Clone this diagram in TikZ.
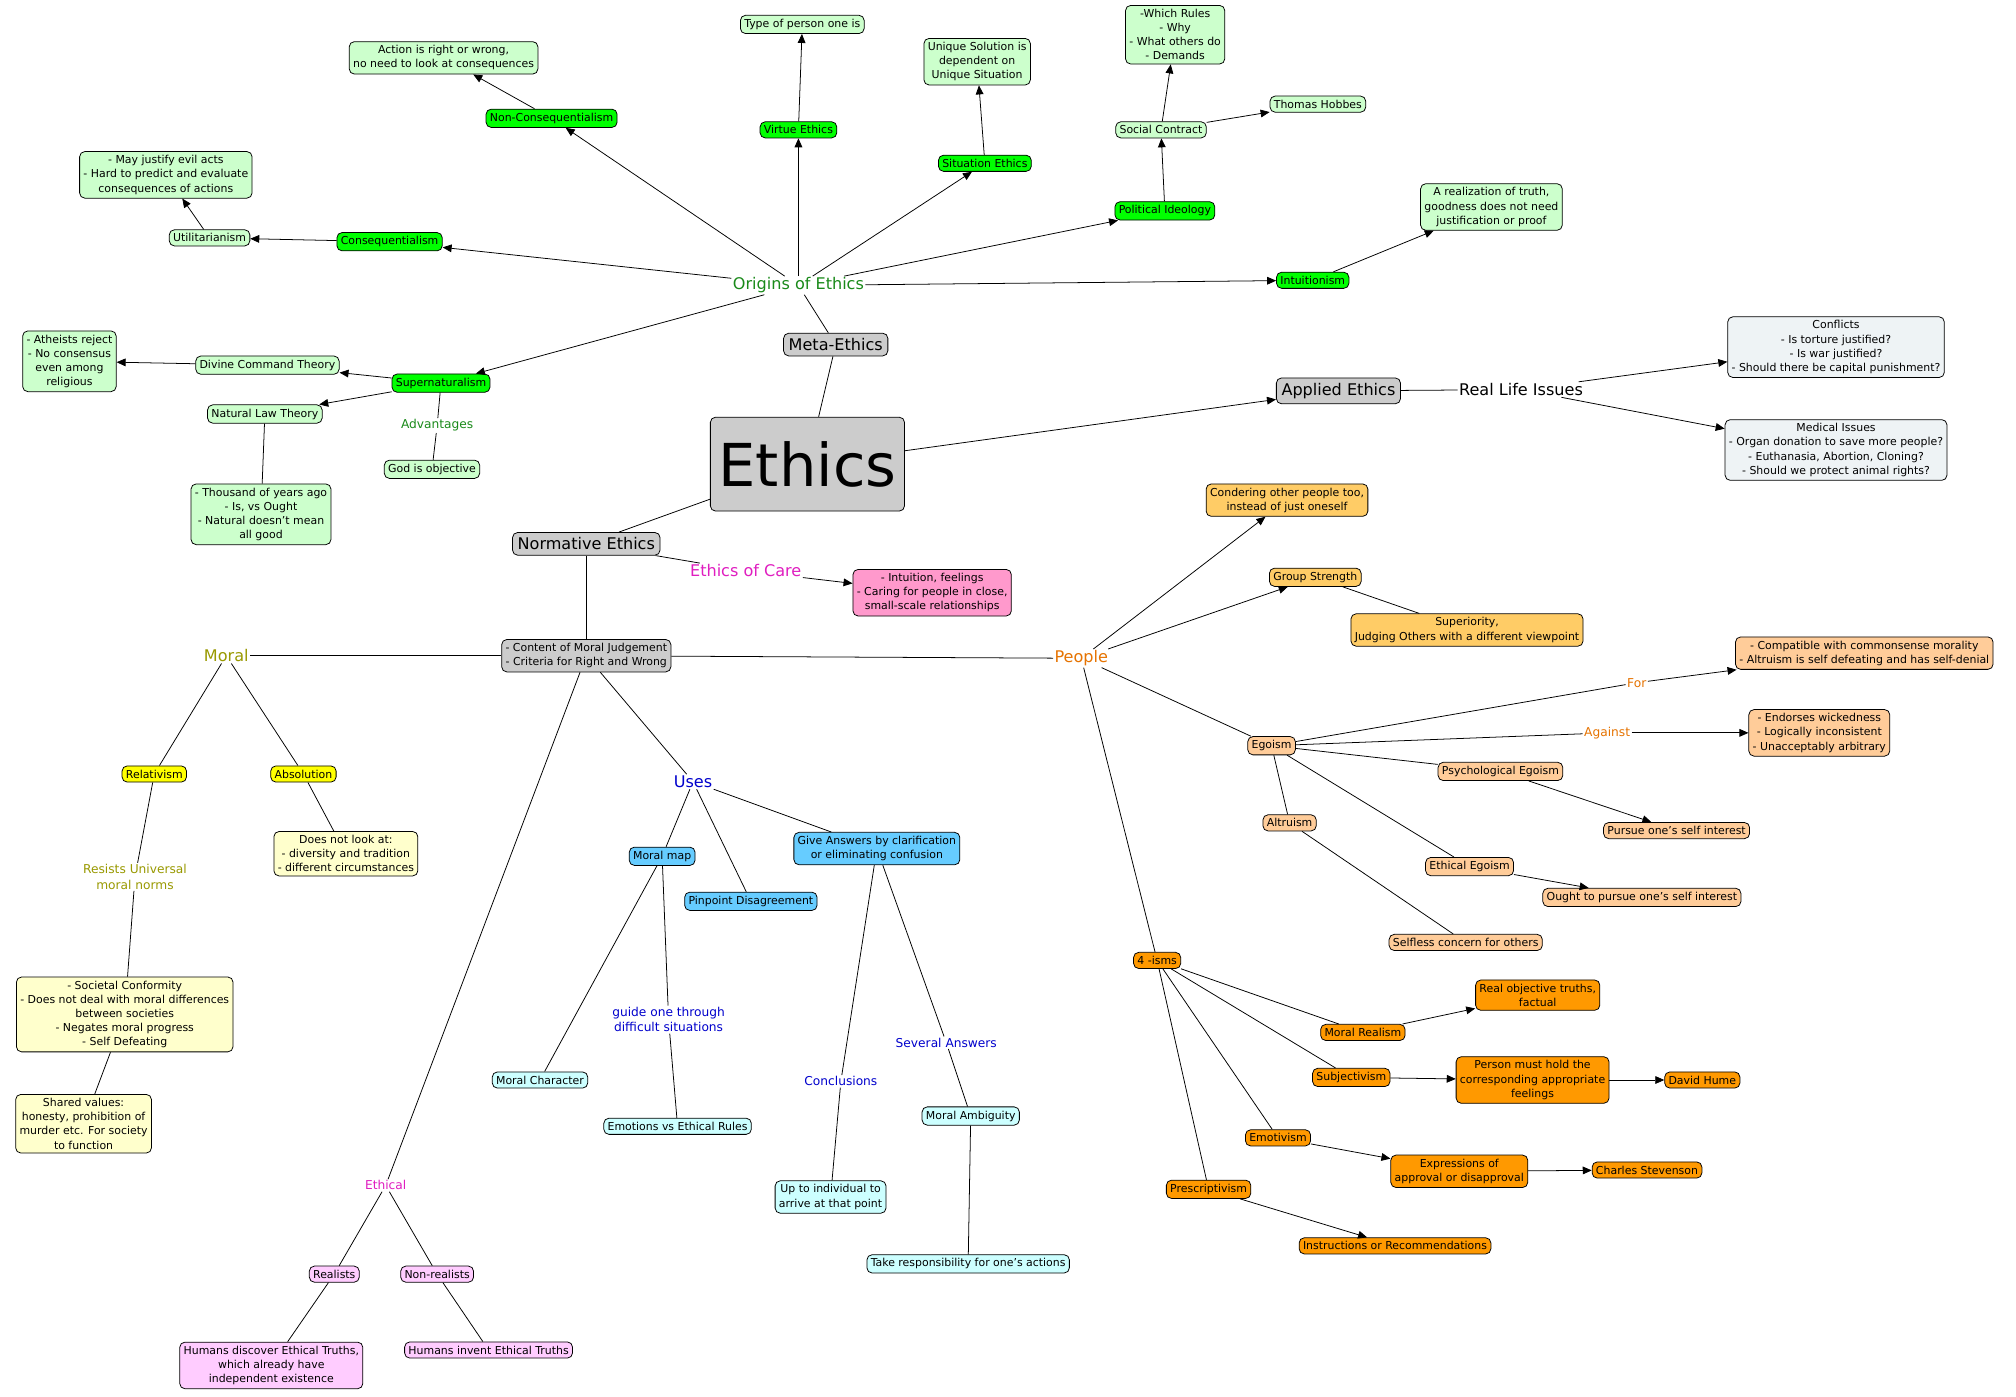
\documentclass[tikz,border=0pt]{standalone}
\usepackage{fontspec}
\setmainfont{DejaVu Sans}
\usetikzlibrary{arrows.meta}
\definecolor{gr}{HTML}{00FF00}
\definecolor{lg}{HTML}{CCFFCC}
\definecolor{gy}{HTML}{CCCCCC}
\definecolor{lb}{HTML}{EEF3F5}
\definecolor{pk}{HTML}{FF99CC}
\definecolor{ye}{HTML}{FFFF00}
\definecolor{ly}{HTML}{FFFFCC}
\definecolor{bl}{HTML}{66CCFF}
\definecolor{lc}{HTML}{CCFFFF}
\definecolor{lp}{HTML}{FFCCFF}
\definecolor{og}{HTML}{FFCC66}
\definecolor{lo}{HTML}{FFCC99}
\definecolor{or}{HTML}{FF9900}
\definecolor{tgreen}{HTML}{1A8A1A}
\definecolor{tmag}{HTML}{E01EC0}
\definecolor{tolive}{HTML}{999900}
\definecolor{tblue}{HTML}{0000CC}
\definecolor{torange}{HTML}{E67300}
\begin{document}
\begin{tikzpicture}[x=1pt,y=-1pt,
 box/.style={draw=black,rounded corners=4pt,align=center,inner sep=3pt,font=\fontsize{8.5}{11}\selectfont,line width=0.6pt},
 big/.style={box,font=\fontsize{12.5}{15}\selectfont,inner sep=4pt},
 lab/.style={align=center,inner sep=1pt,font=\fontsize{12.5}{15}\selectfont},
 slab/.style={align=center,inner sep=1pt,font=\fontsize{9.5}{12}\selectfont},
 ln/.style={line width=0.6pt},
 ar/.style={line width=0.6pt,-{Triangle[length=7pt,width=6pt]}}]
\fill[white] (0,0) rectangle (1568,1086);
% centre
\node[box,fill=gy,minimum width=151,minimum height=73,font=\fontsize{46}{50}\selectfont] (eth) at (628,361) {Ethics};
\node[big,fill=gy] (meta) at (650,268) {Meta-Ethics};
\node[big,fill=gy] (app) at (1041,304) {Applied Ethics};
\node[big,fill=gy] (norm) at (456,423) {Normative Ethics};
\node[lab,text=tgreen] (orig) at (621,222) {Origins of Ethics};
\node[lab] (rli) at (1183,303) {Real Life Issues};
% meta
\node[box,fill=gr] (ncon) at (429,92) {Non-Consequentialism};
\node[box,fill=gr] (virt) at (621,101) {Virtue Ethics};
\node[box,fill=gr] (sit) at (766,127) {Situation Ethics};
\node[box,fill=gr] (pol) at (906,164) {Political Ideology};
\node[box,fill=gr] (con) at (303,188) {Consequentialism};
\node[box,fill=gr] (intu) at (1021,218) {Intuitionism};
\node[box,fill=gr] (sup) at (343,298) {Supernaturalism};
\node[box,fill=lg] (act) at (345,45) {Action is right or wrong,\\no need to look at consequences};
\node[box,fill=lg] (type) at (624,19) {Type of person one is};
\node[box,fill=lg] (uniq) at (760,48) {Unique Solution is\\dependent on\\Unique Situation};
\node[box,fill=lg] (which) at (914,27) {-Which Rules\\- Why\\- What others do\\- Demands};
\node[box,fill=lg] (hob) at (1025,81) {Thomas Hobbes};
\node[box,fill=lg] (soc) at (903,101) {Social Contract};
\node[box,fill=lg] (real) at (1160,161) {A realization of truth,\\goodness does not need\\justification or proof};
\node[box,fill=lg] (may) at (129,136) {- May justify evil acts\\- Hard to predict and evaluate\\consequences of actions};
\node[box,fill=lg] (util) at (163,185) {Utilitarianism};
\node[box,fill=lg] (athe) at (54,281) {- Atheists reject\\- No consensus\\even among\\religious};
\node[box,fill=lg] (div) at (208,284) {Divine Command Theory};
\node[box,fill=lg] (nat) at (206,322) {Natural Law Theory};
\node[box,fill=lg] (god) at (336,365) {God is objective};
\node[box,fill=lg] (thou) at (203,400) {- Thousand of years ago\\- Is, vs Ought\\- Natural doesn't mean\\all good};
\node[slab,text=tgreen] (adv) at (340,331) {Advantages};
% applied
\node[box,fill=lb] (conf) at (1428,270) {Conflicts\\- Is torture justified?\\- Is war justified?\\- Should there be capital punishment?};
\node[box,fill=lb] (med) at (1428,350) {Medical Issues\\- Organ donation to save more people?\\- Euthanasia, Abortion, Cloning?\\- Should we protect animal rights?};
% normative
\node[lab,text=tmag] (care) at (580,444) {Ethics of Care};
\node[box,fill=pk] (carebox) at (725,461) {- Intuition, feelings\\- Caring for people in close,\\small-scale relationships};
\node[box,fill=gy] (cont) at (456,510) {- Content of Moral Judgement\\- Criteria for Right and Wrong};
\node[lab,text=tolive] (moral) at (176,510) {Moral};
\node[box,fill=ye] (rel) at (120,602) {Relativism};
\node[box,fill=ye] (abs) at (236,602) {Absolution};
\node[slab,text=tolive] (res) at (105,682) {Resists Universal\\moral norms};
\node[box,fill=ly] (dnl) at (269,664) {Does not look at:\\- diversity and tradition\\- different circumstances};
\node[box,fill=ly] (soci) at (97,789) {- Societal Conformity\\- Does not deal with moral differences\\between societies\\- Negates moral progress\\- Self Defeating};
\node[box,fill=ly] (shar) at (65,874) {Shared values:\\honesty, prohibition of\\murder etc. For society\\to function};
\node[lab,text=tblue] (uses) at (539,608) {Uses};
\node[box,fill=bl] (mmap) at (515,666) {Moral map};
\node[box,fill=bl] (pin) at (584,701) {Pinpoint Disagreement};
\node[box,fill=bl] (give) at (682,660) {Give Answers by clarification\\or eliminating confusion};
\node[slab,text=tblue] (guide) at (520,793) {guide one through\\difficult situations};
\node[box,fill=lc] (mchar) at (420,840) {Moral Character};
\node[box,fill=lc] (emo) at (527,876) {Emotions vs Ethical Rules};
\node[slab,text=tblue] (concl) at (654,841) {Conclusions};
\node[slab,text=tblue] (sev) at (736,811) {Several Answers};
\node[box,fill=lc] (amb) at (755,868) {Moral Ambiguity};
\node[box,fill=lc] (upto) at (646,931) {Up to individual to\\arrive at that point};
\node[box,fill=lc] (take) at (753,983) {Take responsibility for one's actions};
\node[slab,text=tmag] (ethl) at (300,922) {Ethical};
\node[box,fill=lp] (reals) at (260,991) {Realists};
\node[box,fill=lp] (nonr) at (340,991) {Non-realists};
\node[box,fill=lp] (disc) at (211,1062) {Humans discover Ethical Truths,\\which already have\\independent existence};
\node[box,fill=lp] (inv) at (380,1050) {Humans invent Ethical Truths};
% people
\node[lab,text=torange] (peo) at (841,512) {People};
\node[box,fill=og] (cond) at (1001,389) {Condering other people too,\\instead of just oneself};
\node[box,fill=og] (grp) at (1023,449) {Group Strength};
\node[box,fill=og] (supe) at (1141,490) {Superiority,\\Judging Others with a different viewpoint};
\node[box,fill=lo] (ego) at (989,580) {Egoism};
\node[slab,text=torange] (for) at (1273,531) {For};
\node[slab,text=torange] (agn) at (1250,570) {Against};
\node[box,fill=lo] (comp) at (1450,508) {- Compatible with commonsense morality\\- Altruism is self defeating and has self-denial};
\node[box,fill=lo] (endo) at (1415,570) {- Endorses wickedness\\- Logically inconsistent\\- Unacceptably arbitrary};
\node[box,fill=lo] (psy) at (1167,600) {Psychological Egoism};
\node[box,fill=lo] (purs) at (1304,646) {Pursue one's self interest};
\node[box,fill=lo] (alt) at (1003,640) {Altruism};
\node[box,fill=lo] (eeg) at (1143,674) {Ethical Egoism};
\node[box,fill=lo] (ought) at (1277,698) {Ought to pursue one's self interest};
\node[box,fill=lo] (self) at (1140,733) {Selfless concern for others};
\node[box,fill=or] (isms) at (900,747) {4 -isms};
\node[box,fill=or] (mr) at (1060,803) {Moral Realism};
\node[box,fill=or] (rot) at (1196,774) {Real objective truths,\\factual};
\node[box,fill=or] (subj) at (1051,838) {Subjectivism};
\node[box,fill=or] (pmh) at (1192,840) {Person must hold the\\corresponding appropriate\\feelings};
\node[box,fill=or] (hume) at (1324,840) {David Hume};
\node[box,fill=or] (emot) at (994,885) {Emotivism};
\node[box,fill=or] (expr) at (1135,911) {Expressions of\\approval or disapproval};
\node[box,fill=or] (stev) at (1281,910) {Charles Stevenson};
\node[box,fill=or] (pres) at (940,925) {Prescriptivism};
\node[box,fill=or] (instr) at (1085,969) {Instructions or Recommendations};
% edges meta
\draw[ln] (eth) -- (meta);
\draw[ln] (meta) -- (orig);
\draw[ar] (orig) -- (ncon);
\draw[ar] (orig) -- (virt);
\draw[ar] (orig) -- (sit);
\draw[ar] (orig) -- (pol);
\draw[ar] (orig) -- (con);
\draw[ar] (orig) -- (intu);
\draw[ar] (orig) -- (sup);
\draw[ar] (ncon) -- (act);
\draw[ar] (virt) -- (type);
\draw[ar] (sit) -- (uniq);
\draw[ar] (pol) -- (soc);
\draw[ar] (soc) -- (which);
\draw[ar] (soc) -- (hob);
\draw[ar] (intu) -- (real);
\draw[ar] (con) -- (util);
\draw[ar] (util) -- (may);
\draw[ar] (sup) -- (div);
\draw[ar] (sup) -- (nat);
\draw[ar] (div) -- (athe);
\draw[ln] (nat) -- (thou);
\draw[ln] (sup) -- (adv) -- (god);
% applied
\draw[ar] (eth) -- (app);
\draw[ln] (app) -- (rli);
\draw[ar] (rli) -- (conf);
\draw[ar] (rli) -- (med);
% normative
\draw[ln] (eth) -- (norm);
\draw[ln] (norm) -- (cont);
\draw[ln] (norm) -- (care);
\draw[ar] (care) -- (carebox);
\draw[ln] (cont) -- (moral);
\draw[ln] (moral) -- (rel);
\draw[ln] (moral) -- (abs);
\draw[ln] (rel) -- (res) -- (soci) -- (shar);
\draw[ln] (abs) -- (dnl);
\draw[ln] (cont) -- (uses);
\draw[ln] (uses) -- (mmap);
\draw[ln] (uses) -- (pin);
\draw[ln] (uses) -- (give);
\draw[ln] (mmap) -- (mchar);
\draw[ln] (mmap) -- (guide) -- (emo);
\draw[ln] (give) -- (concl) -- (upto);
\draw[ln] (give) -- (sev) -- (amb) -- (take);
\draw[ln] (cont) -- (ethl);
\draw[ln] (ethl) -- (reals);
\draw[ln] (ethl) -- (nonr);
\draw[ln] (reals) -- (disc);
\draw[ln] (nonr) -- (inv);
% people
\draw[ln] (cont) -- (peo);
\draw[ar] (peo) -- (cond);
\draw[ar] (peo) -- (grp);
\draw[ln] (grp) -- (supe);
\draw[ln] (peo) -- (ego);
\draw[ln] (ego) -- (for); \draw[ar] (for) -- (comp);
\draw[ln] (ego) -- (agn); \draw[ar] (agn) -- (endo);
\draw[ln] (ego) -- (psy); \draw[ar] (psy) -- (purs);
\draw[ln] (ego) -- (alt) -- (self);
\draw[ln] (ego) -- (eeg); \draw[ar] (eeg) -- (ought);
\draw[ln] (peo) -- (isms);
\draw[ln] (isms) -- (mr); \draw[ar] (mr) -- (rot);
\draw[ln] (isms) -- (subj); \draw[ar] (subj) -- (pmh); \draw[ar] (pmh) -- (hume);
\draw[ln] (isms) -- (emot); \draw[ar] (emot) -- (expr); \draw[ar] (expr) -- (stev);
\draw[ln] (isms) -- (pres); \draw[ar] (pres) -- (instr);
\end{tikzpicture}
\end{document}
